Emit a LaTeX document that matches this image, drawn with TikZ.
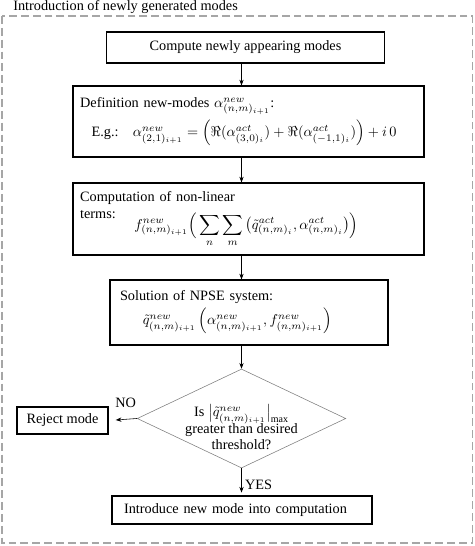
\documentclass[tikz,border=0pt]{standalone}
\usepackage{fontspec}
\setmainfont{Liberation Serif}
\usepackage{amsmath}
\usetikzlibrary{shapes.geometric, arrows.meta}

\begin{document}
\begin{tikzpicture}[x=0.7pt, y=-0.7pt,
  box/.style={draw, thick, align=left, inner ysep=2pt},
  decision/.style={diamond, draw=gray, inner sep=0pt},
  flow/.style={-{Stealth[length=4pt, width=3pt]}}]
  \useasboundingbox (0, 0) rectangle (474, 546);

  % Frame and title
  \draw[gray!70, line width=0.8pt, dash pattern=on 5.5pt off 2.8pt] (2, 16) rectangle (472.5, 543);
  \node[anchor=base west, inner sep=0pt] (ttl) at (13, 10) {Introduction of newly generated modes};

  % Boxes
  \node[box, align=center, minimum width=195pt, minimum height=21.7pt] (cmp) at (245.5, 47.5)
    {Compute newly appearing modes};
  \node[box, text width=235.7pt, inner xsep=5pt, minimum height=49.7pt] (defn) at (248.5, 121.5)
    {Definition new-modes $\alpha^{new}_{(n,m)_{i+1}}$:\\[3pt]
     \hspace*{8pt}E.g.:\quad $\alpha^{new}_{(2,1)_{i+1}} = \left(\Re(\alpha^{act}_{(3,0)_i}) + \Re(\alpha^{act}_{(-1,1)_i})\right) + i\,0$};
  \node[box, text width=235.7pt, inner xsep=5pt, minimum height=50.4pt] (nonlin) at (248.5, 219)
    {Computation of non-linear\\
     terms:\hspace{13pt}\raisebox{-7.5pt}{$\displaystyle f^{new}_{(n,m)_{i+1}}\Big(\sum_n\sum_m\big(\tilde{q}^{act}_{(n,m)_i}, \alpha^{act}_{(n,m)_i}\big)\Big)$}};
  \node[box, text width=180.6pt, inner xsep=7pt, minimum height=45.5pt] (npse) at (249, 312.5)
    {Solution of NPSE system:\\[2pt]
     \hbox{\hspace{16pt}$\tilde{q}^{new}_{(n,m)_{i+1}}\left(\alpha^{new}_{(n,m)_{i+1}}, f^{new}_{(n,m)_{i+1}}\right)$}};

  % Decision
  \node[decision, minimum width=146pt, minimum height=69.3pt,
    label={[align=center, yshift=-6pt]center:{Is $\big|\tilde{q}^{new}_{(n,m)_{i+1}}\big|_{\max}$\\ greater than desired\\[-1pt] threshold?}}]
    (chk) at (241.5, 418.5) {};
  \node[box, align=center, minimum width=63.7pt, minimum height=18.9pt] (rej) at (62.5, 420.5) {Reject mode};
  \node[box, text width=165.2pt, inner xsep=8.4pt, minimum height=19.6pt] (intro) at (242, 510)
    {Introduce new mode into computation};

  % Arrows
  \draw[flow] (cmp.south -| chk.north) -- (defn.north -| chk.north);
  \draw[flow] (defn.south -| chk.north) -- (nonlin.north -| chk.north);
  \draw[flow] (nonlin.south -| chk.north) -- (npse.north -| chk.north);
  \draw[flow] (npse.south -| chk.north) -- (chk.north);
  \draw[flow, shorten >=5pt] (chk.west) -- node[above=5pt, xshift=2pt] (no) {NO} (rej.east);
  \draw[flow, shorten >=2pt] (chk.south) -- node[right=-1pt, pos=0.6] (yes) {YES} (intro.north -| chk.south);
\end{tikzpicture}
\end{document}
